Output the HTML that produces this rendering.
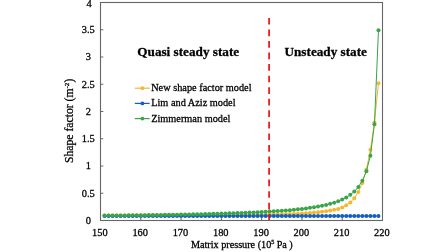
<!DOCTYPE html>
<html><head><meta charset="utf-8"><title>Shape factor</title>
<style>
html,body{margin:0;padding:0;background:#fff;}
svg{display:block;}
text{font-family:"Liberation Serif","Times New Roman",serif;fill:#000;stroke:#000;stroke-width:0.28px;}
.t{font-size:10.4px;text-anchor:middle;}
.b{font-weight:bold;font-size:13.2px;}
.l{font-size:10.3px;}
</style></head><body>
<svg width="448" height="252" viewBox="0 0 448 252">
<rect width="448" height="252" fill="#fff"/>
<polyline fill="none" stroke="#F4B731" stroke-width="1.0" stroke-linejoin="round" points="104.53,215.42 108.56,215.42 112.59,215.41 116.61,215.41 120.64,215.40 124.67,215.40 128.70,215.39 132.73,215.38 136.76,215.38 140.79,215.37 144.81,215.36 148.84,215.35 152.87,215.34 156.90,215.33 160.93,215.33 164.96,215.32 168.99,215.30 173.01,215.29 177.04,215.28 181.07,215.27 185.10,215.26 189.13,215.24 193.16,215.23 197.19,215.21 201.21,215.19 205.24,215.17 209.27,215.15 213.30,215.13 217.33,215.11 221.36,215.09 225.39,215.06 229.41,215.03 233.44,215.00 237.47,214.97 241.50,214.93 245.53,214.89 249.56,214.85 253.59,214.80 257.61,214.75 261.64,214.69 265.67,214.63 269.70,214.56 273.73,214.48 277.76,214.40 281.79,214.30 285.81,214.19 289.84,214.07 293.87,213.93 297.90,213.77 301.93,213.58 305.96,213.31 309.99,212.98 314.01,212.60 318.04,212.16 322.07,211.73 326.10,211.18 330.13,210.58 334.16,209.87 338.19,208.89 342.21,207.42 346.24,205.29 350.27,202.46 354.30,198.16 358.33,191.89 362.36,182.90 366.39,169.81 370.41,149.65 374.44,122.40 378.47,83.16"/>
<g fill="#F4B731"><circle cx="104.53" cy="215.42" r="2.0"/><circle cx="108.56" cy="215.42" r="2.0"/><circle cx="112.59" cy="215.41" r="2.0"/><circle cx="116.61" cy="215.41" r="2.0"/><circle cx="120.64" cy="215.40" r="2.0"/><circle cx="124.67" cy="215.40" r="2.0"/><circle cx="128.70" cy="215.39" r="2.0"/><circle cx="132.73" cy="215.38" r="2.0"/><circle cx="136.76" cy="215.38" r="2.0"/><circle cx="140.79" cy="215.37" r="2.0"/><circle cx="144.81" cy="215.36" r="2.0"/><circle cx="148.84" cy="215.35" r="2.0"/><circle cx="152.87" cy="215.34" r="2.0"/><circle cx="156.90" cy="215.33" r="2.0"/><circle cx="160.93" cy="215.33" r="2.0"/><circle cx="164.96" cy="215.32" r="2.0"/><circle cx="168.99" cy="215.30" r="2.0"/><circle cx="173.01" cy="215.29" r="2.0"/><circle cx="177.04" cy="215.28" r="2.0"/><circle cx="181.07" cy="215.27" r="2.0"/><circle cx="185.10" cy="215.26" r="2.0"/><circle cx="189.13" cy="215.24" r="2.0"/><circle cx="193.16" cy="215.23" r="2.0"/><circle cx="197.19" cy="215.21" r="2.0"/><circle cx="201.21" cy="215.19" r="2.0"/><circle cx="205.24" cy="215.17" r="2.0"/><circle cx="209.27" cy="215.15" r="2.0"/><circle cx="213.30" cy="215.13" r="2.0"/><circle cx="217.33" cy="215.11" r="2.0"/><circle cx="221.36" cy="215.09" r="2.0"/><circle cx="225.39" cy="215.06" r="2.0"/><circle cx="229.41" cy="215.03" r="2.0"/><circle cx="233.44" cy="215.00" r="2.0"/><circle cx="237.47" cy="214.97" r="2.0"/><circle cx="241.50" cy="214.93" r="2.0"/><circle cx="245.53" cy="214.89" r="2.0"/><circle cx="249.56" cy="214.85" r="2.0"/><circle cx="253.59" cy="214.80" r="2.0"/><circle cx="257.61" cy="214.75" r="2.0"/><circle cx="261.64" cy="214.69" r="2.0"/><circle cx="265.67" cy="214.63" r="2.0"/><circle cx="269.70" cy="214.56" r="2.0"/><circle cx="273.73" cy="214.48" r="2.0"/><circle cx="277.76" cy="214.40" r="2.0"/><circle cx="281.79" cy="214.30" r="2.0"/><circle cx="285.81" cy="214.19" r="2.0"/><circle cx="289.84" cy="214.07" r="2.0"/><circle cx="293.87" cy="213.93" r="2.0"/><circle cx="297.90" cy="213.77" r="2.0"/><circle cx="301.93" cy="213.58" r="2.0"/><circle cx="305.96" cy="213.31" r="2.0"/><circle cx="309.99" cy="212.98" r="2.0"/><circle cx="314.01" cy="212.60" r="2.0"/><circle cx="318.04" cy="212.16" r="2.0"/><circle cx="322.07" cy="211.73" r="2.0"/><circle cx="326.10" cy="211.18" r="2.0"/><circle cx="330.13" cy="210.58" r="2.0"/><circle cx="334.16" cy="209.87" r="2.0"/><circle cx="338.19" cy="208.89" r="2.0"/><circle cx="342.21" cy="207.42" r="2.0"/><circle cx="346.24" cy="205.29" r="2.0"/><circle cx="350.27" cy="202.46" r="2.0"/><circle cx="354.30" cy="198.16" r="2.0"/><circle cx="358.33" cy="191.89" r="2.0"/><circle cx="362.36" cy="182.90" r="2.0"/><circle cx="366.39" cy="169.81" r="2.0"/><circle cx="370.41" cy="149.65" r="2.0"/><circle cx="374.44" cy="122.40" r="2.0"/><circle cx="378.47" cy="83.16" r="2.0"/></g>
<polyline fill="none" stroke="#125EC4" stroke-width="1.0" stroke-linejoin="round" points="104.53,216.03 108.56,216.03 112.59,216.03 116.61,216.03 120.64,216.03 124.67,216.03 128.70,216.03 132.73,216.03 136.76,216.03 140.79,216.03 144.81,216.03 148.84,216.03 152.87,216.03 156.90,216.03 160.93,216.03 164.96,216.03 168.99,216.03 173.01,216.03 177.04,216.03 181.07,216.03 185.10,216.03 189.13,216.03 193.16,216.03 197.19,216.03 201.21,216.03 205.24,216.03 209.27,216.03 213.30,216.03 217.33,216.03 221.36,216.03 225.39,216.03 229.41,216.03 233.44,216.03 237.47,216.03 241.50,216.03 245.53,216.03 249.56,216.03 253.59,216.03 257.61,216.03 261.64,216.03 265.67,216.03 269.70,216.03 273.73,216.03 277.76,216.03 281.79,216.03 285.81,216.03 289.84,216.03 293.87,216.03 297.90,216.03 301.93,216.03 305.96,216.03 309.99,216.03 314.01,216.03 318.04,216.03 322.07,216.03 326.10,216.03 330.13,216.03 334.16,216.03 338.19,216.03 342.21,216.03 346.24,216.03 350.27,216.03 354.30,216.03 358.33,216.03 362.36,216.03 366.39,216.03 370.41,216.03 374.44,216.03 378.47,216.03"/>
<g fill="#125EC4"><circle cx="104.53" cy="216.03" r="2.0"/><circle cx="108.56" cy="216.03" r="2.0"/><circle cx="112.59" cy="216.03" r="2.0"/><circle cx="116.61" cy="216.03" r="2.0"/><circle cx="120.64" cy="216.03" r="2.0"/><circle cx="124.67" cy="216.03" r="2.0"/><circle cx="128.70" cy="216.03" r="2.0"/><circle cx="132.73" cy="216.03" r="2.0"/><circle cx="136.76" cy="216.03" r="2.0"/><circle cx="140.79" cy="216.03" r="2.0"/><circle cx="144.81" cy="216.03" r="2.0"/><circle cx="148.84" cy="216.03" r="2.0"/><circle cx="152.87" cy="216.03" r="2.0"/><circle cx="156.90" cy="216.03" r="2.0"/><circle cx="160.93" cy="216.03" r="2.0"/><circle cx="164.96" cy="216.03" r="2.0"/><circle cx="168.99" cy="216.03" r="2.0"/><circle cx="173.01" cy="216.03" r="2.0"/><circle cx="177.04" cy="216.03" r="2.0"/><circle cx="181.07" cy="216.03" r="2.0"/><circle cx="185.10" cy="216.03" r="2.0"/><circle cx="189.13" cy="216.03" r="2.0"/><circle cx="193.16" cy="216.03" r="2.0"/><circle cx="197.19" cy="216.03" r="2.0"/><circle cx="201.21" cy="216.03" r="2.0"/><circle cx="205.24" cy="216.03" r="2.0"/><circle cx="209.27" cy="216.03" r="2.0"/><circle cx="213.30" cy="216.03" r="2.0"/><circle cx="217.33" cy="216.03" r="2.0"/><circle cx="221.36" cy="216.03" r="2.0"/><circle cx="225.39" cy="216.03" r="2.0"/><circle cx="229.41" cy="216.03" r="2.0"/><circle cx="233.44" cy="216.03" r="2.0"/><circle cx="237.47" cy="216.03" r="2.0"/><circle cx="241.50" cy="216.03" r="2.0"/><circle cx="245.53" cy="216.03" r="2.0"/><circle cx="249.56" cy="216.03" r="2.0"/><circle cx="253.59" cy="216.03" r="2.0"/><circle cx="257.61" cy="216.03" r="2.0"/><circle cx="261.64" cy="216.03" r="2.0"/><circle cx="265.67" cy="216.03" r="2.0"/><circle cx="269.70" cy="216.03" r="2.0"/><circle cx="273.73" cy="216.03" r="2.0"/><circle cx="277.76" cy="216.03" r="2.0"/><circle cx="281.79" cy="216.03" r="2.0"/><circle cx="285.81" cy="216.03" r="2.0"/><circle cx="289.84" cy="216.03" r="2.0"/><circle cx="293.87" cy="216.03" r="2.0"/><circle cx="297.90" cy="216.03" r="2.0"/><circle cx="301.93" cy="216.03" r="2.0"/><circle cx="305.96" cy="216.03" r="2.0"/><circle cx="309.99" cy="216.03" r="2.0"/><circle cx="314.01" cy="216.03" r="2.0"/><circle cx="318.04" cy="216.03" r="2.0"/><circle cx="322.07" cy="216.03" r="2.0"/><circle cx="326.10" cy="216.03" r="2.0"/><circle cx="330.13" cy="216.03" r="2.0"/><circle cx="334.16" cy="216.03" r="2.0"/><circle cx="338.19" cy="216.03" r="2.0"/><circle cx="342.21" cy="216.03" r="2.0"/><circle cx="346.24" cy="216.03" r="2.0"/><circle cx="350.27" cy="216.03" r="2.0"/><circle cx="354.30" cy="216.03" r="2.0"/><circle cx="358.33" cy="216.03" r="2.0"/><circle cx="362.36" cy="216.03" r="2.0"/><circle cx="366.39" cy="216.03" r="2.0"/><circle cx="370.41" cy="216.03" r="2.0"/><circle cx="374.44" cy="216.03" r="2.0"/><circle cx="378.47" cy="216.03" r="2.0"/></g>
<polyline fill="none" stroke="#38A549" stroke-width="1.0" stroke-linejoin="round" points="104.53,215.59 108.56,215.55 112.59,215.51 116.61,215.47 120.64,215.43 124.67,215.38 128.70,215.34 132.73,215.29 136.76,215.24 140.79,215.19 144.81,215.13 148.84,215.08 152.87,215.02 156.90,214.96 160.93,214.90 164.96,214.84 168.99,214.77 173.01,214.70 177.04,214.63 181.07,214.56 185.10,214.48 189.13,214.40 193.16,214.32 197.19,214.23 201.21,214.14 205.24,214.05 209.27,213.95 213.30,213.84 217.33,213.73 221.36,213.62 225.39,213.50 229.41,213.37 233.44,213.24 237.47,213.10 241.50,212.95 245.53,212.79 249.56,212.62 253.59,212.44 257.61,212.25 261.64,212.05 265.67,211.84 269.70,211.60 273.73,211.36 277.76,211.09 281.79,210.80 285.81,210.49 289.84,210.15 293.87,209.77 297.90,209.37 301.93,208.92 305.96,208.42 309.99,207.87 314.01,207.26 318.04,206.57 322.07,205.78 326.10,204.89 330.13,203.86 334.16,202.65 338.19,201.23 342.21,199.52 346.24,197.43 350.27,194.82 354.30,191.46 358.33,186.98 362.36,180.72 366.39,171.31 370.41,155.64 374.44,124.31 378.47,30.29"/>
<g fill="#38A549"><circle cx="104.53" cy="215.59" r="2.0"/><circle cx="108.56" cy="215.55" r="2.0"/><circle cx="112.59" cy="215.51" r="2.0"/><circle cx="116.61" cy="215.47" r="2.0"/><circle cx="120.64" cy="215.43" r="2.0"/><circle cx="124.67" cy="215.38" r="2.0"/><circle cx="128.70" cy="215.34" r="2.0"/><circle cx="132.73" cy="215.29" r="2.0"/><circle cx="136.76" cy="215.24" r="2.0"/><circle cx="140.79" cy="215.19" r="2.0"/><circle cx="144.81" cy="215.13" r="2.0"/><circle cx="148.84" cy="215.08" r="2.0"/><circle cx="152.87" cy="215.02" r="2.0"/><circle cx="156.90" cy="214.96" r="2.0"/><circle cx="160.93" cy="214.90" r="2.0"/><circle cx="164.96" cy="214.84" r="2.0"/><circle cx="168.99" cy="214.77" r="2.0"/><circle cx="173.01" cy="214.70" r="2.0"/><circle cx="177.04" cy="214.63" r="2.0"/><circle cx="181.07" cy="214.56" r="2.0"/><circle cx="185.10" cy="214.48" r="2.0"/><circle cx="189.13" cy="214.40" r="2.0"/><circle cx="193.16" cy="214.32" r="2.0"/><circle cx="197.19" cy="214.23" r="2.0"/><circle cx="201.21" cy="214.14" r="2.0"/><circle cx="205.24" cy="214.05" r="2.0"/><circle cx="209.27" cy="213.95" r="2.0"/><circle cx="213.30" cy="213.84" r="2.0"/><circle cx="217.33" cy="213.73" r="2.0"/><circle cx="221.36" cy="213.62" r="2.0"/><circle cx="225.39" cy="213.50" r="2.0"/><circle cx="229.41" cy="213.37" r="2.0"/><circle cx="233.44" cy="213.24" r="2.0"/><circle cx="237.47" cy="213.10" r="2.0"/><circle cx="241.50" cy="212.95" r="2.0"/><circle cx="245.53" cy="212.79" r="2.0"/><circle cx="249.56" cy="212.62" r="2.0"/><circle cx="253.59" cy="212.44" r="2.0"/><circle cx="257.61" cy="212.25" r="2.0"/><circle cx="261.64" cy="212.05" r="2.0"/><circle cx="265.67" cy="211.84" r="2.0"/><circle cx="269.70" cy="211.60" r="2.0"/><circle cx="273.73" cy="211.36" r="2.0"/><circle cx="277.76" cy="211.09" r="2.0"/><circle cx="281.79" cy="210.80" r="2.0"/><circle cx="285.81" cy="210.49" r="2.0"/><circle cx="289.84" cy="210.15" r="2.0"/><circle cx="293.87" cy="209.77" r="2.0"/><circle cx="297.90" cy="209.37" r="2.0"/><circle cx="301.93" cy="208.92" r="2.0"/><circle cx="305.96" cy="208.42" r="2.0"/><circle cx="309.99" cy="207.87" r="2.0"/><circle cx="314.01" cy="207.26" r="2.0"/><circle cx="318.04" cy="206.57" r="2.0"/><circle cx="322.07" cy="205.78" r="2.0"/><circle cx="326.10" cy="204.89" r="2.0"/><circle cx="330.13" cy="203.86" r="2.0"/><circle cx="334.16" cy="202.65" r="2.0"/><circle cx="338.19" cy="201.23" r="2.0"/><circle cx="342.21" cy="199.52" r="2.0"/><circle cx="346.24" cy="197.43" r="2.0"/><circle cx="350.27" cy="194.82" r="2.0"/><circle cx="354.30" cy="191.46" r="2.0"/><circle cx="358.33" cy="186.98" r="2.0"/><circle cx="362.36" cy="180.72" r="2.0"/><circle cx="366.39" cy="171.31" r="2.0"/><circle cx="370.41" cy="155.64" r="2.0"/><circle cx="374.44" cy="124.31" r="2.0"/><circle cx="378.47" cy="30.29" r="2.0"/></g>
<line x1="269.1" y1="17.9" x2="269.1" y2="220.5" stroke="#F01010" stroke-width="1.7" stroke-dasharray="6.7 4.85"/>
<rect x="100.5" y="2.5" width="282.0" height="218.0" fill="none" stroke="#666" stroke-width="1.1"/>
<path d="M100.50 193.25h2.8M100.50 166.00h2.8M100.50 138.75h2.8M100.50 111.50h2.8M100.50 84.25h2.8M100.50 57.00h2.8M100.50 29.75h2.8M140.79 220.50v-2.8M181.07 220.50v-2.8M221.36 220.50v-2.8M261.64 220.50v-2.8M301.93 220.50v-2.8M342.21 220.50v-2.8" stroke="#666" stroke-width="1" fill="none"/>
<text class="t" x="88.3" y="223.80">0</text><text class="t" x="88.3" y="196.55">0.5</text><text class="t" x="88.3" y="169.30">1</text><text class="t" x="88.3" y="142.05">1.5</text><text class="t" x="88.3" y="114.80">2</text><text class="t" x="88.3" y="87.55">2.5</text><text class="t" x="88.3" y="60.30">3</text><text class="t" x="88.3" y="33.05">3.5</text><text class="t" x="89.0" y="7.20">4</text>
<text class="t" x="99.90" y="236.2">150</text><text class="t" x="140.19" y="236.2">160</text><text class="t" x="180.47" y="236.2">170</text><text class="t" x="220.76" y="236.2">180</text><text class="t" x="261.04" y="236.2">190</text><text class="t" x="301.33" y="236.2">200</text><text class="t" x="341.61" y="236.2">210</text><text class="t" x="381.90" y="236.2">220</text>
<text class="b" x="137.3" y="55.6">Quasi steady state</text>
<text class="b" x="284.5" y="55.6">Unsteady state</text>
<line x1="134.8" y1="88.2" x2="149.6" y2="88.2" stroke="#F4B731" stroke-width="1.2"/><circle cx="142.4" cy="88.2" r="1.9" fill="#F4B731"/><text class="l" x="151.2" y="90.9">New shape factor model</text>
<line x1="134.8" y1="103.4" x2="149.6" y2="103.4" stroke="#125EC4" stroke-width="1.2"/><circle cx="142.4" cy="103.4" r="1.9" fill="#125EC4"/><text class="l" x="151.2" y="106.4">Lim and Aziz model</text>
<line x1="134.8" y1="118.6" x2="149.6" y2="118.6" stroke="#38A549" stroke-width="1.2"/><circle cx="142.4" cy="118.6" r="1.9" fill="#38A549"/><text class="l" x="151.2" y="121.7">Zimmerman model</text>
<text x="190.9" y="247.6" font-size="10.2px">Matrix pressure (10<tspan font-size="6.2px" dy="-3.6">5</tspan><tspan dy="3.6" dx="-0.2"> Pa</tspan><tspan dx="-0.2"> )</tspan></text>
<text transform="translate(73.4 163.1) rotate(-90)" font-size="11.7px">Shape factor (m<tspan font-size="7px" dy="-4.2">-2</tspan><tspan dy="4.2">)</tspan></text>
</svg>
</body></html>
